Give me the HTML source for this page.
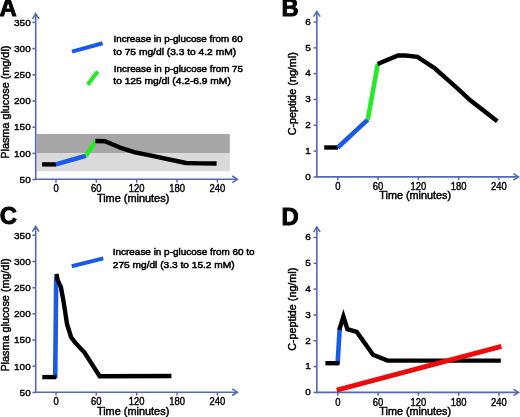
<!DOCTYPE html>
<html><head><meta charset="utf-8"><title>Figure</title>
<style>
html,body{margin:0;padding:0;background:#fff;}
svg{display:block;}
text{font-family:'Liberation Sans', Arial, Helvetica, sans-serif;}
</style></head>
<body>
<svg width="520" height="417" viewBox="0 0 520 417">
<rect width="520" height="417" fill="#fff"/>
<g font-family="'Liberation Sans', Arial, Helvetica, sans-serif" font-weight="bold" font-size="23.8" fill="#000" stroke="#000" stroke-width="0.9">
<text x="-0.40" y="16.00" font-size="23.8" text-anchor="start" font-weight="bold">A</text>
<text x="281.60" y="16.20" font-size="23.8" text-anchor="start" font-weight="bold">B</text>
<text x="-0.20" y="224.00" font-size="23.8" text-anchor="start" font-weight="bold">C</text>
<text x="281.40" y="225.00" font-size="23.8" text-anchor="start" font-weight="bold">D</text>
</g>
<rect x="36.6" y="134.0" width="193.2" height="19.0" fill="#a6a6a6"/>
<rect x="36.6" y="153.0" width="193.2" height="18.3" fill="#dadada"/>
<g stroke="#5069b3" stroke-width="1.6" fill="none" stroke-linecap="butt">
<line x1="35.7" y1="180.10000000000002" x2="35.7" y2="13.9"/>
<line x1="34.900000000000006" y1="179.3" x2="237.1" y2="179.3"/>
<polyline points="32.400000000000006,18.8 35.7,13.6 39.0,18.8" stroke-width="1.5" stroke-linejoin="miter"/>
<polyline points="232.2,176.0 237.4,179.3 232.2,182.60000000000002" stroke-width="1.5" stroke-linejoin="miter"/>
<line x1="32.400000000000006" y1="22.40" x2="35.7" y2="22.40" stroke-width="1.5"/>
<line x1="32.400000000000006" y1="48.60" x2="35.7" y2="48.60" stroke-width="1.5"/>
<line x1="32.400000000000006" y1="74.80" x2="35.7" y2="74.80" stroke-width="1.5"/>
<line x1="32.400000000000006" y1="101.00" x2="35.7" y2="101.00" stroke-width="1.5"/>
<line x1="32.400000000000006" y1="127.20" x2="35.7" y2="127.20" stroke-width="1.5"/>
<line x1="32.400000000000006" y1="153.40" x2="35.7" y2="153.40" stroke-width="1.5"/>
<line x1="32.400000000000006" y1="179.60" x2="35.7" y2="179.60" stroke-width="1.5"/>
<line x1="56.00" y1="179.3" x2="56.00" y2="182.60000000000002" stroke-width="1.5"/>
<line x1="96.35" y1="179.3" x2="96.35" y2="182.60000000000002" stroke-width="1.5"/>
<line x1="136.70" y1="179.3" x2="136.70" y2="182.60000000000002" stroke-width="1.5"/>
<line x1="177.05" y1="179.3" x2="177.05" y2="182.60000000000002" stroke-width="1.5"/>
<line x1="217.40" y1="179.3" x2="217.40" y2="182.60000000000002" stroke-width="1.5"/>
</g>
<g fill="#000" stroke="#000" stroke-width="0.4" font-family="'Liberation Sans', Arial, Helvetica, sans-serif">
<text transform="translate(30.70,25.60) scale(1.04,1)" font-size="9.6" text-anchor="end">350</text>
<text transform="translate(30.70,51.80) scale(1.04,1)" font-size="9.6" text-anchor="end">300</text>
<text transform="translate(30.70,78.00) scale(1.04,1)" font-size="9.6" text-anchor="end">250</text>
<text transform="translate(30.70,104.20) scale(1.04,1)" font-size="9.6" text-anchor="end">200</text>
<text transform="translate(30.70,130.40) scale(1.04,1)" font-size="9.6" text-anchor="end">150</text>
<text transform="translate(30.70,156.60) scale(1.04,1)" font-size="9.6" text-anchor="end">100</text>
<text transform="translate(30.70,182.80) scale(1.04,1)" font-size="9.6" text-anchor="end">50</text>
<text transform="translate(56.00,191.60) scale(0.9,1)" font-size="10.5" text-anchor="middle">0</text>
<text transform="translate(96.35,191.60) scale(0.9,1)" font-size="10.5" text-anchor="middle">60</text>
<text transform="translate(136.70,191.60) scale(0.9,1)" font-size="10.5" text-anchor="middle">120</text>
<text transform="translate(177.05,191.60) scale(0.9,1)" font-size="10.5" text-anchor="middle">180</text>
<text transform="translate(217.40,191.60) scale(0.9,1)" font-size="10.5" text-anchor="middle">240</text>
</g>
<g fill="#000" stroke="#000" stroke-width="0.45" font-family="'Liberation Sans', Arial, Helvetica, sans-serif">
<text x="96.90" y="202.20" font-size="10.4" text-anchor="start" font-weight="normal" textLength="72.4" lengthAdjust="spacingAndGlyphs">Time (minutes)</text>
<text transform="translate(8.6,158.7) rotate(-90)" x="0" y="0" font-size="10.8" textLength="113.10" lengthAdjust="spacingAndGlyphs">Plasma glucose (mg/dl)</text>
</g>
<polyline points="42.10,164.40 56.20,164.40" fill="none" stroke="#000" stroke-width="4.4" stroke-linejoin="miter" stroke-linecap="butt" stroke-miterlimit="10"/>
<polyline points="55.80,164.40 86.00,155.80" fill="none" stroke="#1a5ae8" stroke-width="4.6000000000000005" stroke-linejoin="miter" stroke-linecap="butt" stroke-miterlimit="10"/>
<polyline points="86.00,155.80 95.80,140.90" fill="none" stroke="#26ea26" stroke-width="4.6000000000000005" stroke-linejoin="miter" stroke-linecap="butt" stroke-miterlimit="10"/>
<polyline points="95.40,141.00 105.00,141.20 120.00,147.60 135.00,152.30 150.00,155.40 186.00,163.00 200.00,163.40 216.60,163.50" fill="none" stroke="#000" stroke-width="4.4" stroke-linejoin="round" stroke-linecap="butt" stroke-miterlimit="10"/>
<polyline points="72.00,51.60 102.60,43.30" fill="none" stroke="#1a5ae8" stroke-width="4.0" stroke-linejoin="miter" stroke-linecap="butt" stroke-miterlimit="10"/>
<polyline points="87.70,84.70 97.70,71.50" fill="none" stroke="#26ea26" stroke-width="4.0" stroke-linejoin="miter" stroke-linecap="butt" stroke-miterlimit="10"/>
<g fill="#000" stroke="#000" stroke-width="0.5" font-family="'Liberation Sans', Arial, Helvetica, sans-serif">
<text x="113.50" y="41.80" font-size="9.3" text-anchor="start" font-weight="normal" textLength="129.2" lengthAdjust="spacingAndGlyphs">Increase in p-glucose from 60</text>
<text x="113.30" y="54.80" font-size="9.3" text-anchor="start" font-weight="normal" textLength="122.8" lengthAdjust="spacingAndGlyphs">to 75 mg/dl (3.3 to 4.2 mM)</text>
<text x="113.80" y="71.70" font-size="9.3" text-anchor="start" font-weight="normal" textLength="129.2" lengthAdjust="spacingAndGlyphs">Increase in p-glucose from 75</text>
<text x="113.30" y="84.20" font-size="9.3" text-anchor="start" font-weight="normal" textLength="117.5" lengthAdjust="spacingAndGlyphs">to 125 mg/dl (4.2-6.9 mM)</text>
</g>
<g stroke="#5069b3" stroke-width="1.6" fill="none" stroke-linecap="butt">
<line x1="35.7" y1="393.00000000000006" x2="35.7" y2="226.8"/>
<line x1="34.900000000000006" y1="392.20000000000005" x2="237.1" y2="392.20000000000005"/>
<polyline points="32.400000000000006,231.70000000000002 35.7,226.5 39.0,231.70000000000002" stroke-width="1.5" stroke-linejoin="miter"/>
<polyline points="232.2,388.90000000000003 237.4,392.20000000000005 232.2,395.50000000000006" stroke-width="1.5" stroke-linejoin="miter"/>
<line x1="32.400000000000006" y1="235.30" x2="35.7" y2="235.30" stroke-width="1.5"/>
<line x1="32.400000000000006" y1="261.50" x2="35.7" y2="261.50" stroke-width="1.5"/>
<line x1="32.400000000000006" y1="287.70" x2="35.7" y2="287.70" stroke-width="1.5"/>
<line x1="32.400000000000006" y1="313.90" x2="35.7" y2="313.90" stroke-width="1.5"/>
<line x1="32.400000000000006" y1="340.10" x2="35.7" y2="340.10" stroke-width="1.5"/>
<line x1="32.400000000000006" y1="366.30" x2="35.7" y2="366.30" stroke-width="1.5"/>
<line x1="32.400000000000006" y1="392.50" x2="35.7" y2="392.50" stroke-width="1.5"/>
<line x1="56.00" y1="392.20000000000005" x2="56.00" y2="395.50000000000006" stroke-width="1.5"/>
<line x1="96.35" y1="392.20000000000005" x2="96.35" y2="395.50000000000006" stroke-width="1.5"/>
<line x1="136.70" y1="392.20000000000005" x2="136.70" y2="395.50000000000006" stroke-width="1.5"/>
<line x1="177.05" y1="392.20000000000005" x2="177.05" y2="395.50000000000006" stroke-width="1.5"/>
<line x1="217.40" y1="392.20000000000005" x2="217.40" y2="395.50000000000006" stroke-width="1.5"/>
</g>
<g fill="#000" stroke="#000" stroke-width="0.4" font-family="'Liberation Sans', Arial, Helvetica, sans-serif">
<text transform="translate(30.70,238.50) scale(1.04,1)" font-size="9.6" text-anchor="end">350</text>
<text transform="translate(30.70,264.70) scale(1.04,1)" font-size="9.6" text-anchor="end">300</text>
<text transform="translate(30.70,290.90) scale(1.04,1)" font-size="9.6" text-anchor="end">250</text>
<text transform="translate(30.70,317.10) scale(1.04,1)" font-size="9.6" text-anchor="end">200</text>
<text transform="translate(30.70,343.30) scale(1.04,1)" font-size="9.6" text-anchor="end">150</text>
<text transform="translate(30.70,369.50) scale(1.04,1)" font-size="9.6" text-anchor="end">100</text>
<text transform="translate(30.70,395.70) scale(1.04,1)" font-size="9.6" text-anchor="end">50</text>
<text transform="translate(56.00,404.50) scale(0.9,1)" font-size="10.5" text-anchor="middle">0</text>
<text transform="translate(96.35,404.50) scale(0.9,1)" font-size="10.5" text-anchor="middle">60</text>
<text transform="translate(136.70,404.50) scale(0.9,1)" font-size="10.5" text-anchor="middle">120</text>
<text transform="translate(177.05,404.50) scale(0.9,1)" font-size="10.5" text-anchor="middle">180</text>
<text transform="translate(217.40,404.50) scale(0.9,1)" font-size="10.5" text-anchor="middle">240</text>
</g>
<g fill="#000" stroke="#000" stroke-width="0.45" font-family="'Liberation Sans', Arial, Helvetica, sans-serif">
<text x="96.90" y="415.10" font-size="10.4" text-anchor="start" font-weight="normal" textLength="72.4" lengthAdjust="spacingAndGlyphs">Time (minutes)</text>
<text transform="translate(8.6,371.6) rotate(-90)" x="0" y="0" font-size="10.8" textLength="113.10" lengthAdjust="spacingAndGlyphs">Plasma glucose (mg/dl)</text>
</g>
<polyline points="55.20,378.00 56.20,277.00" fill="none" stroke="#1a5ae8" stroke-width="4.6000000000000005" stroke-linejoin="miter" stroke-linecap="butt" stroke-miterlimit="10"/>
<polyline points="42.30,377.10 56.40,377.10" fill="none" stroke="#000" stroke-width="4.4" stroke-linejoin="miter" stroke-linecap="butt" stroke-miterlimit="10"/>
<polyline points="56.40,273.80 57.60,280.00 60.90,287.20 63.30,300.00 65.20,312.00 67.00,324.00 71.10,337.20 75.00,342.40 84.50,352.60 99.70,376.20 171.40,376.00" fill="none" stroke="#000" stroke-width="4.4" stroke-linejoin="miter" stroke-linecap="butt" stroke-miterlimit="10"/>
<polyline points="71.80,266.20 103.30,258.40" fill="none" stroke="#1a5ae8" stroke-width="4.0" stroke-linejoin="miter" stroke-linecap="butt" stroke-miterlimit="10"/>
<g fill="#000" stroke="#000" stroke-width="0.5" font-family="'Liberation Sans', Arial, Helvetica, sans-serif">
<text x="112.80" y="254.70" font-size="9.3" text-anchor="start" font-weight="normal" textLength="141.8" lengthAdjust="spacingAndGlyphs">Increase in p-glucose from 60 to</text>
<text x="112.80" y="268.00" font-size="9.3" text-anchor="start" font-weight="normal" textLength="121.8" lengthAdjust="spacingAndGlyphs">275 mg/dl (3.3 to 15.2 mM)</text>
</g>
<g stroke="#5069b3" stroke-width="1.6" fill="none" stroke-linecap="butt">
<line x1="316.85" y1="177.70000000000002" x2="316.85" y2="11.7"/>
<line x1="316.05" y1="176.9" x2="518.3" y2="176.9"/>
<polyline points="313.55,16.6 316.85,11.399999999999999 320.15000000000003,16.6" stroke-width="1.5" stroke-linejoin="miter"/>
<polyline points="513.4,173.6 518.5999999999999,176.9 513.4,180.20000000000002" stroke-width="1.5" stroke-linejoin="miter"/>
<line x1="313.55" y1="22.00" x2="316.85" y2="22.00" stroke-width="1.5"/>
<line x1="313.55" y1="47.82" x2="316.85" y2="47.82" stroke-width="1.5"/>
<line x1="313.55" y1="73.64" x2="316.85" y2="73.64" stroke-width="1.5"/>
<line x1="313.55" y1="99.46" x2="316.85" y2="99.46" stroke-width="1.5"/>
<line x1="313.55" y1="125.28" x2="316.85" y2="125.28" stroke-width="1.5"/>
<line x1="313.55" y1="151.10" x2="316.85" y2="151.10" stroke-width="1.5"/>
<line x1="313.55" y1="176.92" x2="316.85" y2="176.92" stroke-width="1.5"/>
<line x1="337.80" y1="176.9" x2="337.80" y2="180.20000000000002" stroke-width="1.5"/>
<line x1="378.08" y1="176.9" x2="378.08" y2="180.20000000000002" stroke-width="1.5"/>
<line x1="418.36" y1="176.9" x2="418.36" y2="180.20000000000002" stroke-width="1.5"/>
<line x1="458.64" y1="176.9" x2="458.64" y2="180.20000000000002" stroke-width="1.5"/>
<line x1="498.92" y1="176.9" x2="498.92" y2="180.20000000000002" stroke-width="1.5"/>
</g>
<g fill="#000" stroke="#000" stroke-width="0.4" font-family="'Liberation Sans', Arial, Helvetica, sans-serif">
<text transform="translate(310.90,24.80) scale(1.04,1)" font-size="9.6" text-anchor="end">6</text>
<text transform="translate(310.90,50.62) scale(1.04,1)" font-size="9.6" text-anchor="end">5</text>
<text transform="translate(310.90,76.44) scale(1.04,1)" font-size="9.6" text-anchor="end">4</text>
<text transform="translate(310.90,102.26) scale(1.04,1)" font-size="9.6" text-anchor="end">3</text>
<text transform="translate(310.90,128.08) scale(1.04,1)" font-size="9.6" text-anchor="end">2</text>
<text transform="translate(310.90,153.90) scale(1.04,1)" font-size="9.6" text-anchor="end">1</text>
<text transform="translate(310.90,179.72) scale(1.04,1)" font-size="9.6" text-anchor="end">0</text>
<text transform="translate(337.80,190.00) scale(0.9,1)" font-size="10.5" text-anchor="middle">0</text>
<text transform="translate(378.08,190.00) scale(0.9,1)" font-size="10.5" text-anchor="middle">60</text>
<text transform="translate(418.36,190.00) scale(0.9,1)" font-size="10.5" text-anchor="middle">120</text>
<text transform="translate(458.64,190.00) scale(0.9,1)" font-size="10.5" text-anchor="middle">180</text>
<text transform="translate(498.92,190.00) scale(0.9,1)" font-size="10.5" text-anchor="middle">240</text>
</g>
<g fill="#000" stroke="#000" stroke-width="0.45" font-family="'Liberation Sans', Arial, Helvetica, sans-serif">
<text x="379.30" y="199.40" font-size="10.4" text-anchor="start" font-weight="normal" textLength="71.8" lengthAdjust="spacingAndGlyphs">Time (minutes)</text>
<text transform="translate(296.0,135.3) rotate(-90)" x="0" y="0" font-size="10.6" textLength="83.10" lengthAdjust="spacingAndGlyphs">C-peptide (ng/ml)</text>
</g>
<polyline points="324.20,147.50 338.20,147.50" fill="none" stroke="#000" stroke-width="4.4" stroke-linejoin="miter" stroke-linecap="butt" stroke-miterlimit="10"/>
<polyline points="337.80,147.50 367.80,119.60" fill="none" stroke="#1a5ae8" stroke-width="4.6000000000000005" stroke-linejoin="miter" stroke-linecap="butt" stroke-miterlimit="10"/>
<polyline points="367.80,119.60 377.80,63.80" fill="none" stroke="#26ea26" stroke-width="4.6000000000000005" stroke-linejoin="miter" stroke-linecap="butt" stroke-miterlimit="10"/>
<polyline points="377.60,64.00 398.00,55.50 405.40,55.50 417.50,56.80 435.00,68.50 450.10,81.80 458.50,89.40 470.30,100.30 497.30,121.30" fill="none" stroke="#000" stroke-width="4.4" stroke-linejoin="miter" stroke-linecap="butt" stroke-miterlimit="10"/>
<g stroke="#5069b3" stroke-width="1.6" fill="none" stroke-linecap="butt">
<line x1="316.85" y1="393.2" x2="316.85" y2="227.2"/>
<line x1="316.05" y1="392.4" x2="518.3" y2="392.4"/>
<polyline points="313.55,232.1 316.85,226.89999999999998 320.15000000000003,232.1" stroke-width="1.5" stroke-linejoin="miter"/>
<polyline points="513.4,389.09999999999997 518.5999999999999,392.4 513.4,395.7" stroke-width="1.5" stroke-linejoin="miter"/>
<line x1="313.55" y1="237.50" x2="316.85" y2="237.50" stroke-width="1.5"/>
<line x1="313.55" y1="263.32" x2="316.85" y2="263.32" stroke-width="1.5"/>
<line x1="313.55" y1="289.14" x2="316.85" y2="289.14" stroke-width="1.5"/>
<line x1="313.55" y1="314.96" x2="316.85" y2="314.96" stroke-width="1.5"/>
<line x1="313.55" y1="340.78" x2="316.85" y2="340.78" stroke-width="1.5"/>
<line x1="313.55" y1="366.60" x2="316.85" y2="366.60" stroke-width="1.5"/>
<line x1="313.55" y1="392.42" x2="316.85" y2="392.42" stroke-width="1.5"/>
<line x1="337.80" y1="392.4" x2="337.80" y2="395.7" stroke-width="1.5"/>
<line x1="378.08" y1="392.4" x2="378.08" y2="395.7" stroke-width="1.5"/>
<line x1="418.36" y1="392.4" x2="418.36" y2="395.7" stroke-width="1.5"/>
<line x1="458.64" y1="392.4" x2="458.64" y2="395.7" stroke-width="1.5"/>
<line x1="498.92" y1="392.4" x2="498.92" y2="395.7" stroke-width="1.5"/>
</g>
<g fill="#000" stroke="#000" stroke-width="0.4" font-family="'Liberation Sans', Arial, Helvetica, sans-serif">
<text transform="translate(310.90,240.30) scale(1.04,1)" font-size="9.6" text-anchor="end">6</text>
<text transform="translate(310.90,266.12) scale(1.04,1)" font-size="9.6" text-anchor="end">5</text>
<text transform="translate(310.90,291.94) scale(1.04,1)" font-size="9.6" text-anchor="end">4</text>
<text transform="translate(310.90,317.76) scale(1.04,1)" font-size="9.6" text-anchor="end">3</text>
<text transform="translate(310.90,343.58) scale(1.04,1)" font-size="9.6" text-anchor="end">2</text>
<text transform="translate(310.90,369.40) scale(1.04,1)" font-size="9.6" text-anchor="end">1</text>
<text transform="translate(310.90,395.22) scale(1.04,1)" font-size="9.6" text-anchor="end">0</text>
<text transform="translate(337.80,405.50) scale(0.9,1)" font-size="10.5" text-anchor="middle">0</text>
<text transform="translate(378.08,405.50) scale(0.9,1)" font-size="10.5" text-anchor="middle">60</text>
<text transform="translate(418.36,405.50) scale(0.9,1)" font-size="10.5" text-anchor="middle">120</text>
<text transform="translate(458.64,405.50) scale(0.9,1)" font-size="10.5" text-anchor="middle">180</text>
<text transform="translate(498.92,405.50) scale(0.9,1)" font-size="10.5" text-anchor="middle">240</text>
</g>
<g fill="#000" stroke="#000" stroke-width="0.45" font-family="'Liberation Sans', Arial, Helvetica, sans-serif">
<text x="379.30" y="414.90" font-size="10.4" text-anchor="start" font-weight="normal" textLength="71.8" lengthAdjust="spacingAndGlyphs">Time (minutes)</text>
<text transform="translate(296.0,350.8) rotate(-90)" x="0" y="0" font-size="10.6" textLength="83.10" lengthAdjust="spacingAndGlyphs">C-peptide (ng/ml)</text>
</g>
<polyline points="337.60,364.00 339.70,328.40" fill="none" stroke="#1a5ae8" stroke-width="4.6000000000000005" stroke-linejoin="miter" stroke-linecap="butt" stroke-miterlimit="10"/>
<polyline points="325.40,363.20 339.40,363.20" fill="none" stroke="#000" stroke-width="4.4" stroke-linejoin="miter" stroke-linecap="butt" stroke-miterlimit="10"/>
<polyline points="339.30,329.80 343.40,316.40 347.40,329.20 356.80,332.00 373.00,354.80 387.40,360.60 500.80,360.60" fill="none" stroke="#000" stroke-width="4.4" stroke-linejoin="miter" stroke-linecap="butt" stroke-miterlimit="10"/>
<polyline points="336.80,390.10 501.40,346.40" fill="none" stroke="#ee0a0a" stroke-width="4.8" stroke-linejoin="miter" stroke-linecap="butt" stroke-miterlimit="10"/>
</svg>
</body></html>
